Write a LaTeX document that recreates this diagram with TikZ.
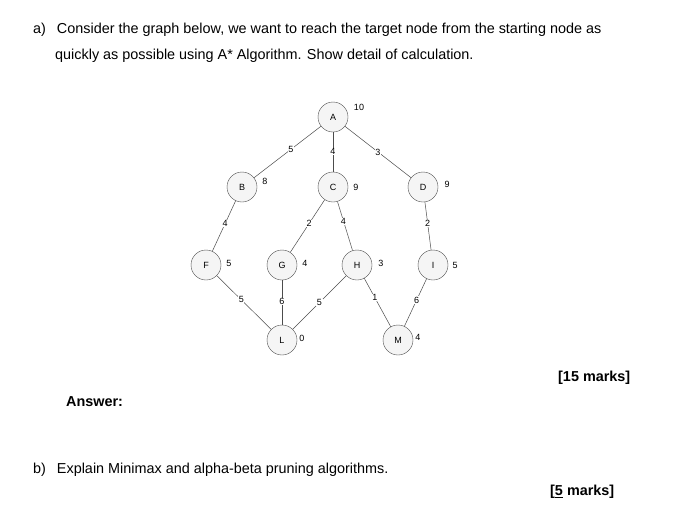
\documentclass[tikz,border=0pt]{standalone}
\usepackage{fontspec}
\setmainfont{Liberation Sans}
\begin{document}
\begin{tikzpicture}[x=1pt,y=-1pt,
  vtx/.style={circle,draw=black!70,fill=black!4,minimum size=30pt,inner sep=0pt,font=\fontsize{9}{10}\selectfont},
  hv/.style={font=\fontsize{9}{10}\selectfont,inner sep=0pt},
  ew/.style={font=\fontsize{9}{10}\selectfont,fill=white,inner sep=0.5pt},
  edge/.style={draw=black!70,line width=0.5pt},
  q/.style={font=\fontsize{14.4}{17}\selectfont,anchor=west,inner sep=0pt}]
\useasboundingbox[fill=white] (0,0) rectangle (689,517);
\node[q] (qa) at (33,30) {a)\hspace{11pt}Consider the graph below, we want to reach the target node from the starting node as};
\node[q] (qa2) at (55,56) {quickly as possible using A* Algorithm. Show detail of calculation.};
\node[vtx] (A) at (333,117) {A};
\node[vtx] (B) at (242,187) {B};
\node[vtx] (C) at (333,187) {C};
\node[vtx] (D) at (423,187) {D};
\node[vtx] (F) at (206,265) {F};
\node[vtx] (G) at (282,265) {G};
\node[vtx] (H) at (357,265) {H};
\node[vtx] (I) at (433,265) {I};
\node[vtx] (L) at (282,340) {L};
\node[vtx] (M) at (398,340) {M};
\foreach \a/\b/\w/\p in {A/B/5/0.45,A/C/4/0.48,A/D/3/0.5,B/F/4/0.45,C/G/2/0.45,C/H/4/0.4,D/I/2/0.45,F/L/5/0.45,G/L/6/0.48,H/L/5/0.5,H/M/1/0.4,I/M/6/0.45}
  \path[edge] (\a) -- node[ew,pos=\p] (w\a\b) {\w} (\b);
\node[hv] (hA) at (359,107) {10};
\node[hv] (hB) at (265,181) {8};
\node[hv] (hC) at (356,187) {9};
\node[hv] (hD) at (447,184) {9};
\node[hv] (hF) at (229,263) {5};
\node[hv] (hG) at (305,263) {4};
\node[hv] (hH) at (381,263) {3};
\node[hv] (hI) at (455,265) {5};
\node[hv] (hL) at (302,338) {0};
\node[hv] (hM) at (418,337) {4};
\node[q,font=\bfseries\fontsize{14.4}{17}\selectfont] (m1) at (558,378) {[15 marks]};
\node[q,font=\bfseries\fontsize{14.4}{17}\selectfont] (ans) at (66,402) {Answer:};
\node[q] (qb) at (33,470) {b)\hspace{11pt}Explain Minimax and alpha-beta pruning algorithms.};
\node[q,font=\bfseries\fontsize{14.4}{17}\selectfont] (m2) at (550,492) {[\underline{5} marks]};
\end{tikzpicture}
\end{document}
